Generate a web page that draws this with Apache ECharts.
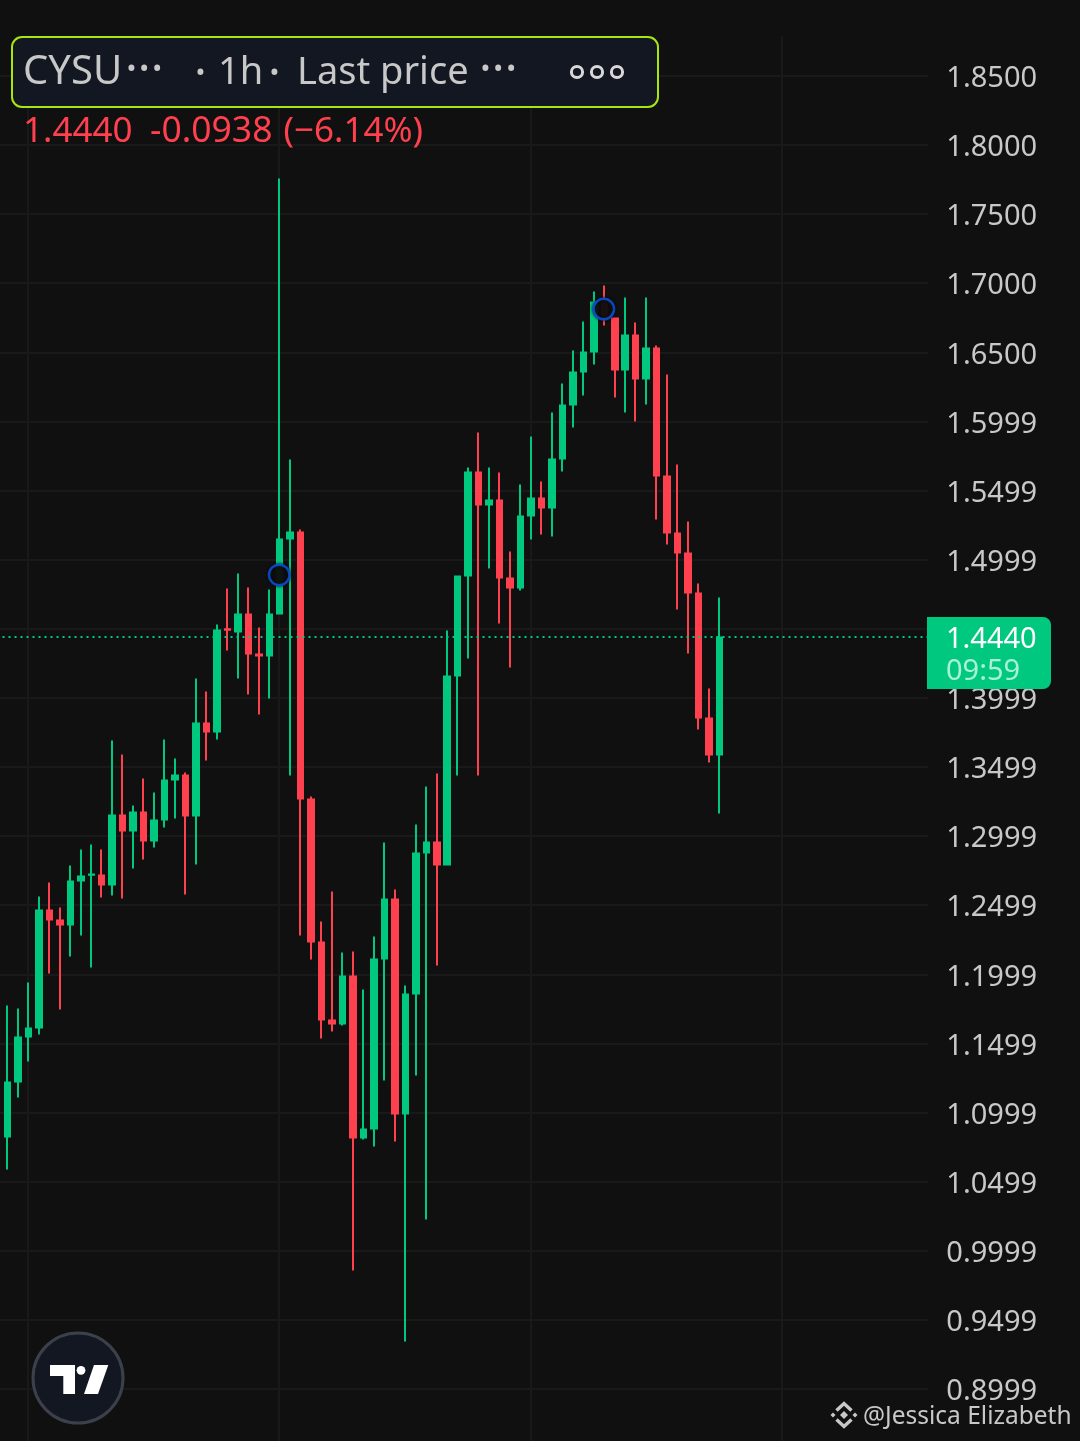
<!DOCTYPE html>
<html>
<head>
<meta charset="utf-8">
<style>html,body{margin:0;padding:0;background:#101010}#c{width:1080px;height:1441px}</style>
<script src="https://cdn.jsdelivr.net/npm/echarts@6/dist/echarts.min.js"></script>
</head>
<body>
<div id="c"></div>
<script>
const opens = [1.0830,1.1228,1.1554,1.1619,1.2465,1.2393,1.2364,1.2682,1.2724,1.2718,1.2653,1.3152,1.3044,1.3174,1.2971,1.3123,1.3413,1.3442,1.3152,1.3818,1.3760,1.4500,1.4483,1.4606,1.4317,1.4310,1.4614,1.5156,1.5200,1.3268,1.2234,1.1669,1.1648,1.1988,1.0823,1.0888,1.2118,1.2545,1.0997,1.1865,1.2885,1.2957,1.2798,1.4165,1.4889,1.5634,1.5402,1.5431,1.4867,1.4802,1.5323,1.5446,1.5380,1.5735,1.6125,1.6364,1.6509,1.6864,1.6748,1.6379,1.6625,1.6314,1.6531,1.5605,1.5192,1.5048,1.4758,1.3854,1.3594];
const closes = [1.1221,1.1546,1.1612,1.2465,1.2400,1.2364,1.2675,1.2711,1.2726,1.2653,1.3152,1.3044,1.3174,1.2971,1.3116,1.3406,1.3442,1.3152,1.3818,1.3760,1.4491,1.4497,1.4606,1.4324,1.4310,1.4606,1.5149,1.5200,1.3275,1.2241,1.1677,1.1648,1.1988,1.0823,1.0881,1.2111,1.2545,1.0997,1.1857,1.2877,1.2957,1.2798,1.4158,1.4881,1.5634,1.5402,1.5431,1.4874,1.4802,1.5315,1.5446,1.5380,1.5728,1.6118,1.6357,1.6502,1.6864,1.6755,1.6379,1.6625,1.6314,1.6531,1.5612,1.5200,1.5055,1.4766,1.3861,1.3594,1.4440];
const lows = [1.0591,1.1112,1.1373,1.1568,1.2009,1.1749,1.2132,1.2284,1.2053,1.2559,1.2574,1.2552,1.2769,1.2834,1.2921,1.3066,1.3131,1.2581,1.2798,1.3550,1.3702,1.4346,1.4143,1.4028,1.3883,1.3999,1.4606,1.3442,1.2284,1.2111,1.1539,1.1590,1.1633,0.9861,1.0809,1.0758,1.1235,1.0794,0.9347,1.1272,1.0230,1.2067,1.2791,1.3442,1.4288,1.3442,1.4939,1.4541,1.4223,1.4780,1.5149,1.5185,1.5171,1.5641,1.5959,1.6191,1.6415,1.6697,1.6176,1.6068,1.6003,1.6125,1.5294,1.5113,1.4643,1.4324,1.3774,1.3536,1.3167];
const highs = [1.1778,1.1756,1.1944,1.2566,1.2668,1.2487,1.2791,1.2906,1.2943,1.2906,1.3695,1.3594,1.3225,1.3420,1.3319,1.3702,1.3565,1.3463,1.4143,1.4049,1.4534,1.4794,1.4903,1.4802,1.4512,1.4787,1.7760,1.5728,1.5221,1.3290,1.2386,1.2603,1.2161,1.2168,1.1894,1.2277,1.2957,1.2617,1.1923,1.3087,1.3362,1.3456,1.4491,1.4889,1.5670,1.5923,1.5670,1.5634,1.5062,1.5547,1.5894,1.5568,1.6068,1.6277,1.6516,1.6726,1.6943,1.6986,1.6755,1.6900,1.6719,1.6900,1.6552,1.6343,1.5692,1.5279,1.4831,1.4071,1.4729];
const tickValues = [0.90,0.95,1.00,1.05,1.10,1.15,1.20,1.25,1.30,1.35,1.40,1.45,1.50,1.55,1.60,1.65,1.70,1.75,1.80,1.85];
const tickLabels = ['0.8999','0.9499','0.9999','1.0499','1.0999','1.1499','1.1999','1.2499','1.2999','1.3499','1.3999','1.4499','1.4999','1.5499','1.5999','1.6500','1.7000','1.7500','1.8000','1.8500'];
const lastPrice = 1.4440;
const signalBars = [27, 58];
const signalPrices = [1.4889, 1.6813];
const verticalGridBars = [3, 27, 51, 75];
const categories = Array.from({length: 90}, (_, i) => String(i));

const GREEN = '#00C97F', RED = '#FF404E', BG = '#101010', GRID = '#191919', TXT = '#C8C8C8';
const FONT = '"Noto Sans", sans-serif';

const candles = opens.map((o, i) => [i + 1, o, closes[i], lows[i], highs[i]]);

function txt(text, x, y, size, fill, align) {
  return {type: 'text', z: 100, style: {text, x, y, fill, font: size + 'px ' + FONT, align: align || 'left', verticalAlign: 'middle'}};
}
function ring(cx) {
  return {type: 'circle', z: 100, shape: {cx, cy: 72, r: 5.6}, style: {fill: 'none', stroke: '#D8D8D8', lineWidth: 3}};
}

const graphics = [
  {type: 'rect', z: 99, shape: {x: 12, y: 37, width: 646, height: 70, r: 10}, style: {fill: '#131722', stroke: '#A8E60F', lineWidth: 2}},
  txt('CYSU', 23, 73, 40, TXT),
  txt('···', 125, 71, 48, TXT),
  txt('·', 194, 75, 48, TXT),
  txt('1h', 218, 73, 38, TXT),
  txt('·', 268, 75, 48, TXT),
  txt('Last price', 297, 73, 38, TXT),
  txt('···', 479, 71, 48, TXT),
  ring(577), ring(597), ring(617),
  txt('1.4440', 23, 132, 35, RED),
  txt('-0.0938', 150, 132, 35.5, RED),
  txt('(\u22126.14%)', 283.5, 132, 35, RED),

  {type: 'rect', z: 99, shape: {x: 927, y: 617, width: 124, height: 72, r: [0, 8, 8, 0]}, style: {fill: GREEN}},
  txt('1.4440', 946, 640, 29, '#FFFFFF'),
  txt('09:59', 946, 672, 29, '#A8F0D6'),

  {type: 'circle', z: 99, shape: {cx: 78, cy: 1378, r: 45}, style: {fill: '#131722', stroke: '#3C404A', lineWidth: 3}},
  {type: 'polygon', z: 100, shape: {points: [[50,1365],[75,1365],[75,1394],[63.3,1394],[63.3,1376],[50,1376]]}, style: {fill: '#FFFFFF'}},
  {type: 'circle', z: 100, shape: {cx: 81, cy: 1370.3, r: 4.4}, style: {fill: '#FFFFFF'}},
  {type: 'polygon', z: 100, shape: {points: [[94,1365],[108.3,1365],[98,1394],[84,1394]]}, style: {fill: '#FFFFFF'}},

  {type: 'polyline', z: 100, shape: {points: [[836.5,1410.5],[844,1403.5],[851.5,1410.5]]}, style: {fill: 'none', stroke: TXT, lineWidth: 3.4}},
  {type: 'polyline', z: 100, shape: {points: [[836.5,1419.5],[844,1426.5],[851.5,1419.5]]}, style: {fill: 'none', stroke: TXT, lineWidth: 3.4}},
  {type: 'polygon', z: 100, shape: {points: [[844,1411],[848,1415],[844,1419],[840,1415]]}, style: {fill: TXT}},
  {type: 'polygon', z: 100, shape: {points: [[833,1412.5],[835.5,1415],[833,1417.5],[830.5,1415]]}, style: {fill: TXT}},
  {type: 'polygon', z: 100, shape: {points: [[855,1412.5],[857.5,1415],[855,1417.5],[852.5,1415]]}, style: {fill: TXT}},
  txt('@Jessica Elizabeth', 863, 1417, 24.5, TXT)
];

const chart = echarts.init(document.getElementById('c'), null, {renderer: 'canvas', width: 1080, height: 1441});
chart.setOption({
  animation: false,
  backgroundColor: BG,
  graphic: graphics,
  grid: {left: -3.47, top: 36, width: 931.83, height: 1422.1, containLabel: false, outerBoundsMode: 'none'},
  xAxis: {
    type: 'category', data: categories, boundaryGap: false,
    axisLine: {show: false}, axisTick: {show: false}, axisLabel: {show: false},
    splitLine: {show: true, interval: (i) => verticalGridBars.includes(i), lineStyle: {color: GRID, width: 2}}
  },
  yAxis: {
    type: 'value', position: 'right', min: 0.85, max: 1.8788, interval: 0.05, scale: true,
    axisLine: {show: false}, axisTick: {show: false},
    axisLabel: {
      margin: 18, color: TXT, fontSize: 29, fontFamily: '"Noto Sans", sans-serif',
      showMaxLabel: false, verticalAlign: 'top', lineHeight: 6,
      formatter: (v) => { const k = tickValues.findIndex(t => Math.abs(t - v) < 0.001); return k >= 0 ? tickLabels[k] : ''; }
    },
    splitLine: {show: true, showMaxLine: false, lineStyle: {color: GRID, width: 2}}
  },
  series: [
    {
      type: 'candlestick', data: candles, encode: {x: 0, y: [1, 2, 3, 4]}, barWidth: 6, clip: true,
      itemStyle: {color: GREEN, color0: RED, borderColor: GREEN, borderColor0: RED, borderWidth: 2}
    },
    {
      type: 'line', z: 4, symbol: 'none', silent: true,
      data: [[0, lastPrice], [89, lastPrice]],
      lineStyle: {color: GREEN, type: [2, 4], width: 2}
    },
    {
      type: 'scatter', z: 5, symbol: 'circle', symbolSize: 20.5,
      data: signalBars.map((b, i) => [b, signalPrices[i]]),
      itemStyle: {color: BG, borderColor: '#0B56E8', borderWidth: 2.5, shadowColor: '#000', shadowBlur: 3}
    }
  ]
});
// ECharts snaps candle outlines to half pixels for 1px strokes; nudge them so the 2px strokes stay crisp.
const zr = chart.getZr();
zr.storage.getDisplayList(true).forEach((el) => {
  if (el.type === 'normalCandlestickBox') { el.x = 0.5; el.y = 0.5; el.markRedraw(); }
});
zr.refresh();
</script>
</body>
</html>
